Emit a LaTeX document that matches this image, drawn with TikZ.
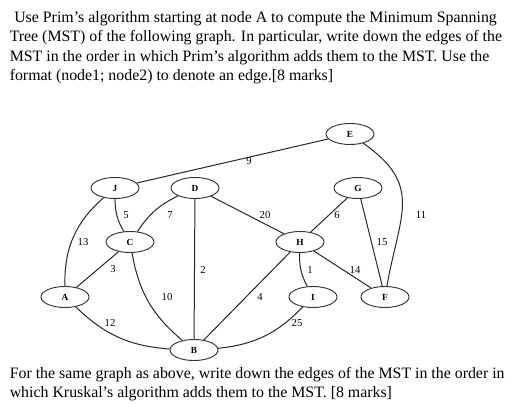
\documentclass[tikz,border=0pt]{standalone}
\usepackage{fontspec}
\setmainfont{Liberation Serif}
\usetikzlibrary{shapes.geometric}

\begin{document}
\begin{tikzpicture}[x=0.75pt, y=0.75pt,
  vertex/.style={ellipse, draw=black!80, line width=0.7pt, minimum width=36pt, minimum height=15.75pt, inner sep=0pt, font=\fontsize{7}{8}\selectfont\bfseries},
  edge/.style={draw=black!85, line width=0.75pt},
  wt/.style={font=\fontsize{8}{9}\selectfont, inner sep=0pt},
  txt/.style={anchor=base west, inner sep=0pt, font=\fontsize{11.9}{14}\selectfont}
]
\useasboundingbox (0,0) rectangle (524,411);

% question text
\node[txt] (q1) at (14,388.5) {Use Prim’s algorithm starting at node A to compute the Minimum Spanning};
\node[txt] (q2) at (9.5,369.3) {Tree (MST) of the following graph. In particular, write down the edges of the};
\node[txt] (q3) at (9.5,349.5) {MST in the order in which Prim’s algorithm adds them to the MST. Use the};
\node[txt] (q4) at (9.5,330) {format (node1; node2) to denote an edge.[8 marks]};
\node[txt] (k1) at (9.5,33) {For the same graph as above, write down the edges of the MST in the order in};
\node[txt] (k2) at (9.5,14) {which Kruskal’s algorithm adds them to the MST. [8 marks]};

% vertices
\node[vertex] (E) at (350,277) {E};
\node[vertex] (G) at (358,223) {G};
\node[vertex] (J) at (115,223) {J};
\node[vertex] (D) at (195,223) {D};
\node[vertex] (C) at (130,169) {C};
\node[vertex] (H) at (300,169) {H};
\node[vertex] (A) at (65,114) {A};
\node[vertex] (I) at (313,114) {I};
\node[vertex] (F) at (385,114) {F};
\node[vertex] (B) at (194,61) {B};

% edges
\draw[edge] (J) -- (E);
\draw[edge] (J) to[bend right=25] (A);
\draw[edge] (J) to[bend right=15] (C);
\draw[edge] (D) to[bend right=15] (C);
\draw[edge] (D) -- (B);
\draw[edge] (D) -- (H);
\draw[edge] (C) -- (A);
\draw[edge] (C) to[bend right=20] (B);
\draw[edge] (A) to[bend right=20] (B);
\draw[edge] (H) -- (B);
\draw[edge] (H) to[bend right=15] (I);
\draw[edge] (H) -- (F);
\draw[edge] (G) -- (H);
\draw[edge] (G) -- (F);
\draw[edge] (E) to[out=-35,in=80,looseness=1.3] (F);
\draw[edge] (I) to[bend left=20] (B);

% weights
\node[wt] (w9) at (249,250) {9};
\node[wt] (w5) at (126,196) {5};
\node[wt] (w13) at (83,169) {13};
\node[wt] (w7) at (170,196) {7};
\node[wt] (w20) at (265,196) {20};
\node[wt] (w2) at (203,141) {2};
\node[wt] (w3) at (113,142) {3};
\node[wt] (w10) at (167,114) {10};
\node[wt] (w12) at (110,88) {12};
\node[wt] (w4) at (260,114) {4};
\node[wt] (w1) at (310,141) {1};
\node[wt] (w14) at (355,141) {14};
\node[wt] (w6) at (337,196) {6};
\node[wt] (w15) at (382,169) {15};
\node[wt] (w11) at (421,196) {11};
\node[wt] (w25) at (297,88) {25};
\end{tikzpicture}
\end{document}
